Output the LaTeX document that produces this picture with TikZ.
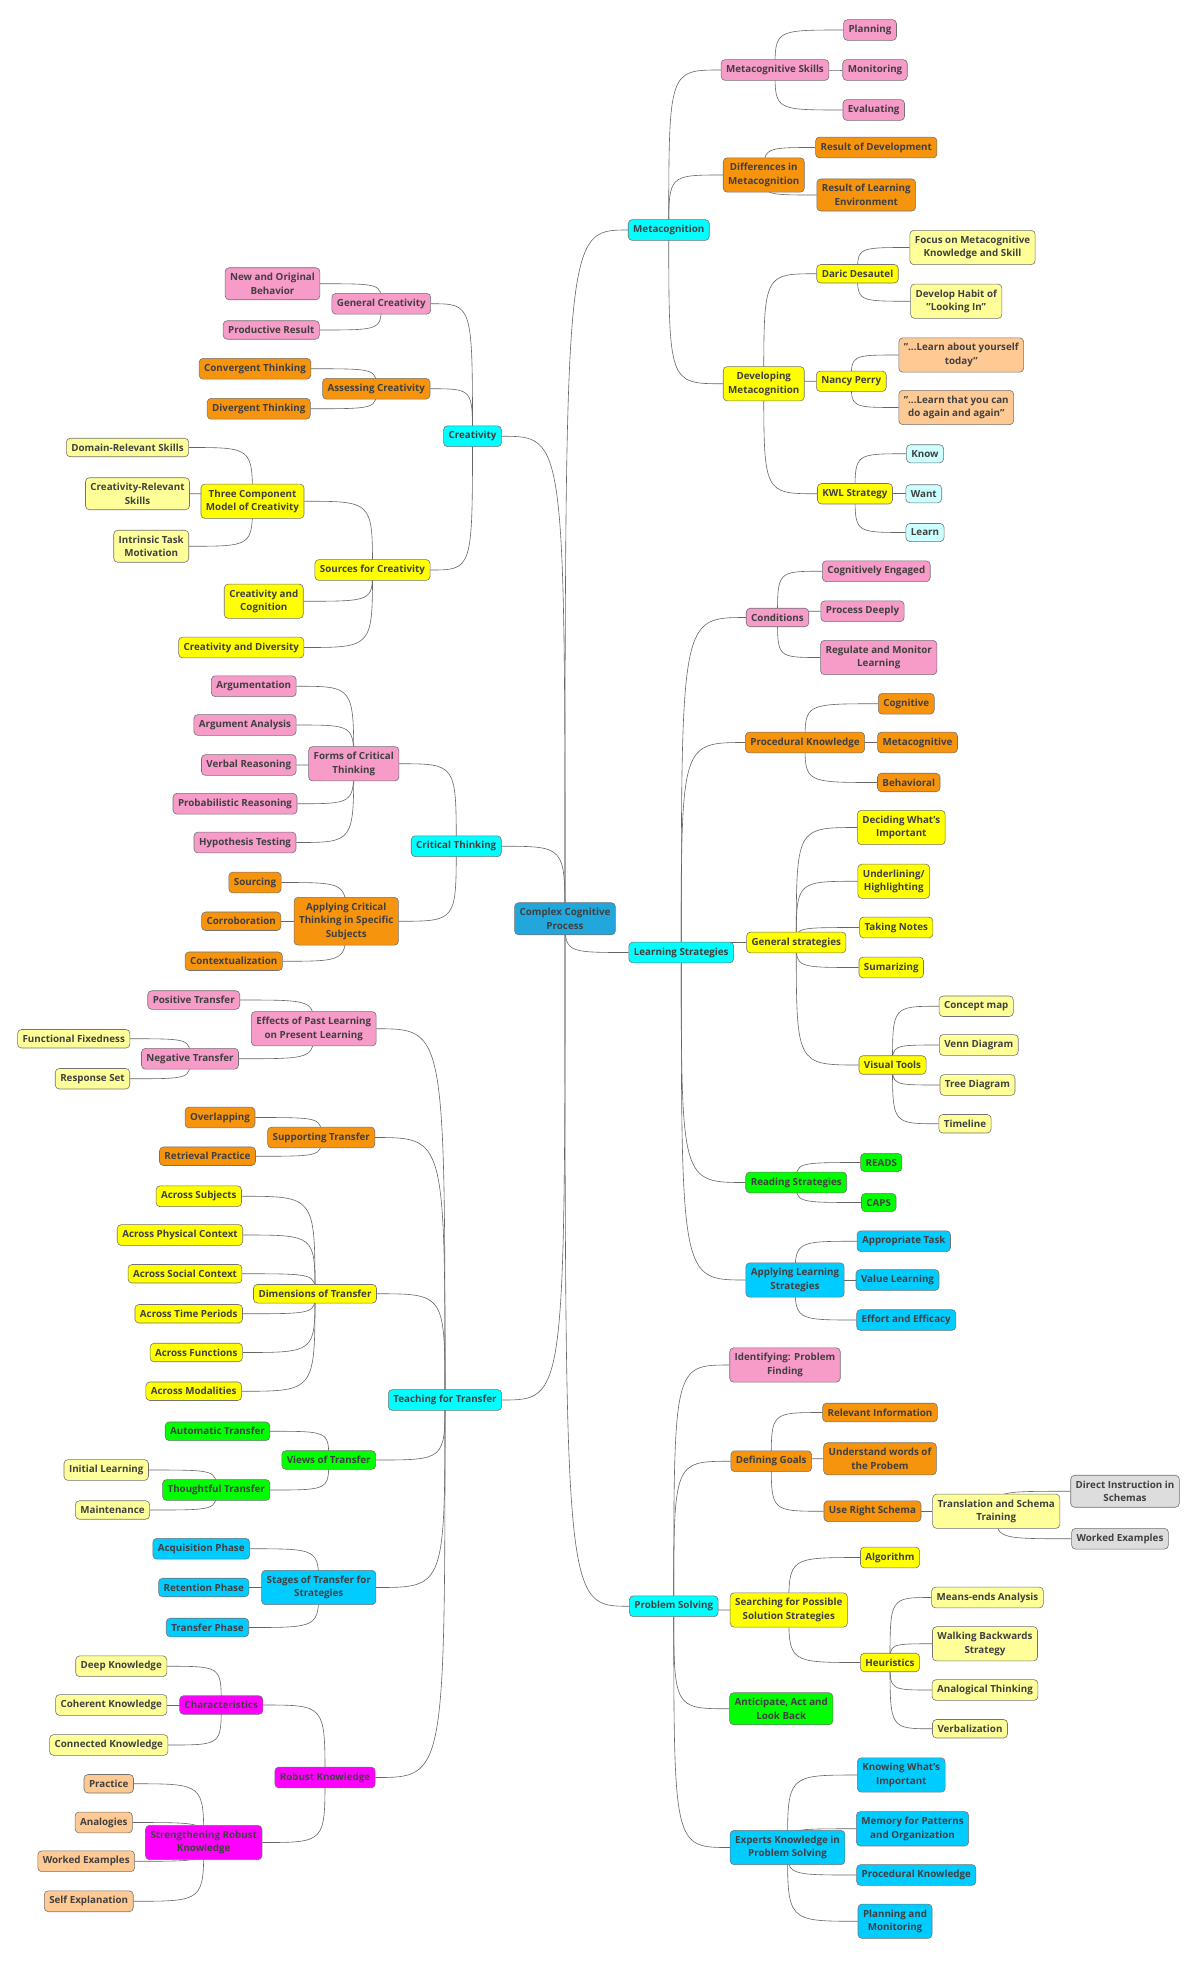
\documentclass[tikz,border=0pt]{standalone}
\usepackage{fontspec}
\setmainfont{Open Sans}
\usetikzlibrary{backgrounds}
\begin{document}
\begin{tikzpicture}[x=1.25pt,y=-1.25pt,
 b/.style={draw=black!55,rounded corners=4pt,align=center,font=\fontsize{9.8}{13.5}\selectfont\bfseries,text=black!75,inner xsep=5pt,inner ysep=5.5pt,line width=0.6pt},
 pk/.style={b,fill=pk}, og/.style={b,fill=og}, ye/.style={b,fill=ye}, ly/.style={b,fill=ly},
 pe/.style={b,fill=pe}, lc/.style={b,fill=lc}, cy/.style={b,fill=cy}, gr/.style={b,fill=gr},
 bl/.style={b,fill=bl}, mg/.style={b,fill=mg}, gy/.style={b,fill=gy},
 ed/.style={draw=black!60,line width=0.6pt}]
\definecolor{pk}{HTML}{F79BC9}\definecolor{og}{HTML}{F7940E}\definecolor{ye}{HTML}{FFFF00}
\definecolor{ly}{HTML}{FFFF99}\definecolor{pe}{HTML}{FFC994}\definecolor{lc}{HTML}{CCFFFF}
\definecolor{cy}{HTML}{00FFFF}\definecolor{gr}{HTML}{00FF00}\definecolor{bl}{HTML}{00CCFF}
\definecolor{mg}{HTML}{FF00FF}\definecolor{gy}{HTML}{DDDDDD}\definecolor{ce}{HTML}{22A7DD}
\useasboundingbox (0,0) rectangle (960,1569.6);
\node[b,fill=ce] (C) at (452,735) {Complex Cognitive\\Process};
\node[cy] (MC) at (535,184) {Metacognition};
\node[cy] (LS) at (545,762) {Learning Strategies};
\node[cy] (PS) at (539,1285) {Problem Solving};
\node[cy] (CR) at (378,349) {Creativity};
\node[cy] (CT) at (365,677) {Critical Thinking};
\node[cy] (TT) at (356,1120) {Teaching for Transfer};
% Metacognition
\node[pk] (MS) at (620,56) {Metacognitive Skills};
\node[pk] (MS1) at (696,24) {Planning};
\node[pk] (MS2) at (700,56) {Monitoring};
\node[pk] (MS3) at (699,88) {Evaluating};
\node[og] (DM) at (611,140) {Differences in\\Metacognition};
\node[og] (DM1) at (701,118) {Result of Development};
\node[og] (DM2) at (693,156) {Result of Learning\\Environment};
\node[ye] (DV) at (611,307) {Developing\\Metacognition};
\node[ye] (DD) at (686,219) {Daric Desautel};
\node[ly] (DD1) at (778,198) {Focus on Metacognitive\\Knowledge and Skill};
\node[ly] (DD2) at (765,241) {Develop Habit of\\"Looking In"};
\node[ye] (NP) at (681,305) {Nancy Perry};
\node[pe] (NP1) at (769,284) {"...Learn about yourself\\today"};
\node[pe] (NP2) at (765,326) {"...Learn that you can\\do again and again"};
\node[ye] (KW) at (684,395) {KWL Strategy};
\node[lc] (KW1) at (740,363) {Know};
\node[lc] (KW2) at (739,395) {Want};
\node[lc] (KW3) at (740,426) {Learn};
% Learning strategies
\node[pk] (CO) at (622,494) {Conditions};
\node[pk] (CO1) at (701,457) {Cognitively Engaged};
\node[pk] (CO2) at (690,489) {Process Deeply};
\node[pk] (CO3) at (703,526) {Regulate and Monitor\\Learning};
\node[og] (PK) at (644,594) {Procedural Knowledge};
\node[og] (PK1) at (725,563) {Cognitive};
\node[og] (PK2) at (734,594) {Metacognitive};
\node[og] (PK3) at (727,626) {Behavioral};
\node[ye] (GS) at (637,754) {General strategies};
\node[ye] (GS1) at (721,662) {Deciding What's\\Important};
\node[ye] (GS2) at (715,705) {Underlining/\\Highlighting};
\node[ye] (GS3) at (717,742) {Taking Notes};
\node[ye] (GS4) at (713,774) {Sumarizing};
\node[ye] (VT) at (714,852) {Visual Tools};
\node[ly] (VT1) at (781,805) {Concept map};
\node[ly] (VT2) at (783,836) {Venn Diagram};
\node[ly] (VT3) at (782,868) {Tree Diagram};
\node[ly] (VT4) at (772,899) {Timeline};
\node[gr] (RS) at (637,946) {Reading Strategies};
\node[gr] (RS1) at (705,930) {READS};
\node[gr] (RS2) at (703,962) {CAPS};
\node[bl] (AL) at (636,1024) {Applying Learning\\Strategies};
\node[bl] (AL1) at (723,993) {Appropriate Task};
\node[bl] (AL2) at (718,1024) {Value Learning};
\node[bl] (AL3) at (725,1056) {Effort and Efficacy};
% Problem solving
\node[pk] (IP) at (628,1092) {Identifying: Problem\\Finding};
\node[og] (DG) at (617,1169) {Defining Goals};
\node[og] (DG1) at (704,1130) {Relevant Information};
\node[og] (DG2) at (704,1167) {Understand words of\\the Probem};
\node[og] (DG3) at (698,1209) {Use Right Schema};
\node[ly] (TS) at (797,1209) {Translation and Schema\\Training};
\node[gy] (TS1) at (900,1193) {Direct Instruction in\\Schemas};
\node[gy] (TS2) at (896,1231) {Worked Examples};
\node[ye] (SP) at (631,1288) {Searching for Possible\\Solution Strategies};
\node[ye] (SP1) at (712,1246) {Algorithm};
\node[ye] (HE) at (712,1330) {Heuristics};
\node[ly] (HE1) at (790,1278) {Means-ends Analysis};
\node[ly] (HE2) at (788,1315) {Walking Backwards\\Strategy};
\node[ly] (HE3) at (788,1352) {Analogical Thinking};
\node[ly] (HE4) at (776,1383) {Verbalization};
\node[gr] (AA) at (625,1367) {Anticipate, Act and\\Look Back};
\node[bl] (EK) at (630,1478) {Experts Knowledge in\\Problem Solving};
\node[bl] (EK1) at (721,1420) {Knowing What's\\Important};
\node[bl] (EK2) at (730,1463) {Memory for Patterns\\and Organization};
\node[bl] (EK3) at (733,1500) {Procedural Knowledge};
\node[bl] (EK4) at (716,1537) {Planning and\\Monitoring};
% Creativity
\node[pk] (GC) at (305,243) {General Creativity};
\node[pk] (GC1) at (218,227) {New and Original\\Behavior};
\node[pk] (GC2) at (217,264) {Productive Result};
\node[og] (AC) at (301,311) {Assessing Creativity};
\node[og] (AC1) at (204,295) {Convergent Thinking};
\node[og] (AC2) at (207,327) {Divergent Thinking};
\node[ye] (SC) at (298,456) {Sources for Creativity};
\node[ye] (TC) at (202,401) {Three Component\\Model of Creativity};
\node[ly] (TC1) at (102,358) {Domain-Relevant Skills};
\node[ly] (TC2) at (110,395) {Creativity-Relevant\\Skills};
\node[ly] (TC3) at (121,437) {Intrinsic Task\\Motivation};
\node[ye] (SC2) at (211,481) {Creativity and\\Cognition};
\node[ye] (SC3) at (193,518) {Creativity and Diversity};
% Critical thinking
\node[pk] (FC) at (283,611) {Forms of Critical\\Thinking};
\node[pk] (FC1) at (203,549) {Argumentation};
\node[pk] (FC2) at (196,580) {Argument Analysis};
\node[pk] (FC3) at (199,612) {Verbal Reasoning};
\node[pk] (FC4) at (188,643) {Probabilistic Reasoning};
\node[pk] (FC5) at (196,674) {Hypothesis Testing};
\node[og] (AP) at (277,737) {Applying Critical\\Thinking in Specific\\Subjects};
\node[og] (AP1) at (204,706) {Sourcing};
\node[og] (AP2) at (193,737) {Corroboration};
\node[og] (AP3) at (187,769) {Contextualization};
% Teaching for transfer
\node[pk] (EP) at (251,823) {Effects of Past Learning\\on Present Learning};
\node[pk] (EP1) at (155,800) {Positive Transfer};
\node[pk] (NT) at (152,847) {Negative Transfer};
\node[ly] (NT1) at (59,831) {Functional Fixedness};
\node[ly] (NT2) at (74,863) {Response Set};
\node[og] (ST) at (257,910) {Supporting Transfer};
\node[og] (ST1) at (176,894) {Overlapping};
\node[og] (ST2) at (166,925) {Retrieval Practice};
\node[ye] (DT) at (252,1035) {Dimensions of Transfer};
\node[ye] (DT1) at (159,957) {Across Subjects};
\node[ye] (DT2) at (144,988) {Across Physical Context};
\node[ye] (DT3) at (148,1019) {Across Social Context};
\node[ye] (DT4) at (151,1051) {Across Time Periods};
\node[ye] (DT5) at (157,1082) {Across Functions};
\node[ye] (DT6) at (155,1113) {Across Modalities};
\node[gr] (VW) at (263,1168) {Views of Transfer};
\node[gr] (VW1) at (174,1145) {Automatic Transfer};
\node[gr] (TH) at (173,1192) {Thoughtful Transfer};
\node[ly] (TH1) at (85,1176) {Initial Learning};
\node[ly] (TH2) at (90,1208) {Maintenance};
\node[bl] (SG) at (255,1270) {Stages of Transfer for\\Strategies};
\node[bl] (SG1) at (161,1239) {Acquisition Phase};
\node[bl] (SG2) at (163,1270) {Retention Phase};
\node[bl] (SG3) at (166,1302) {Transfer Phase};
\node[mg] (RK) at (260,1422) {Robust Knowledge};
\node[mg] (CH) at (177,1364) {Characteristics};
\node[ly] (CH1) at (97,1333) {Deep Knowledge};
\node[ly] (CH2) at (89,1364) {Coherent Knowledge};
\node[ly] (CH3) at (87,1396) {Connected Knowledge};
\node[mg] (SR) at (163,1474) {Strengthening Robust\\Knowledge};
\node[pe] (SR1) at (87,1427) {Practice};
\node[pe] (SR2) at (83,1458) {Analogies};
\node[pe] (SR3) at (69,1489) {Worked Examples};
\node[pe] (SR4) at (71,1521) {Self Explanation};
% edges
\begin{pgfonlayer}{background}
\fill[white] (0,0) rectangle (960,1569.6);
\foreach \a/\b in {C/MC,C/LS,C/PS,MC/MS,MS/MS1,MS/MS2,MS/MS3,MC/DM,DM/DM1,DM/DM2,MC/DV,DV/DD,DD/DD1,DD/DD2,DV/NP,NP/NP1,NP/NP2,DV/KW,KW/KW1,KW/KW2,KW/KW3,
LS/CO,CO/CO1,CO/CO2,CO/CO3,LS/PK,PK/PK1,PK/PK2,PK/PK3,LS/GS,GS/GS1,GS/GS2,GS/GS3,GS/GS4,GS/VT,VT/VT1,VT/VT2,VT/VT3,VT/VT4,LS/RS,RS/RS1,RS/RS2,LS/AL,AL/AL1,AL/AL2,AL/AL3,
PS/IP,PS/DG,DG/DG1,DG/DG2,DG/DG3,DG3/TS,TS/TS1,TS/TS2,PS/SP,SP/SP1,SP/HE,HE/HE1,HE/HE2,HE/HE3,HE/HE4,PS/AA,PS/EK,EK/EK1,EK/EK2,EK/EK3,EK/EK4}
 \draw[ed] (\a.center) .. controls (\a.center |- \b.west) .. (\b.west);
\foreach \a/\b in {C/CR,C/CT,C/TT,CR/GC,GC/GC1,GC/GC2,CR/AC,AC/AC1,AC/AC2,CR/SC,SC/TC,TC/TC1,TC/TC2,TC/TC3,SC/SC2,SC/SC3,
CT/FC,FC/FC1,FC/FC2,FC/FC3,FC/FC4,FC/FC5,CT/AP,AP/AP1,AP/AP2,AP/AP3,
TT/EP,EP/EP1,EP/NT,NT/NT1,NT/NT2,TT/ST,ST/ST1,ST/ST2,TT/DT,DT/DT1,DT/DT2,DT/DT3,DT/DT4,DT/DT5,DT/DT6,TT/VW,VW/VW1,VW/TH,TH/TH1,TH/TH2,TT/SG,SG/SG1,SG/SG2,SG/SG3,TT/RK,RK/CH,CH/CH1,CH/CH2,CH/CH3,RK/SR,SR/SR1,SR/SR2,SR/SR3,SR/SR4}
 \draw[ed] (\a.center) .. controls (\a.center |- \b.east) .. (\b.east);
\end{pgfonlayer}
\end{tikzpicture}
\end{document}
